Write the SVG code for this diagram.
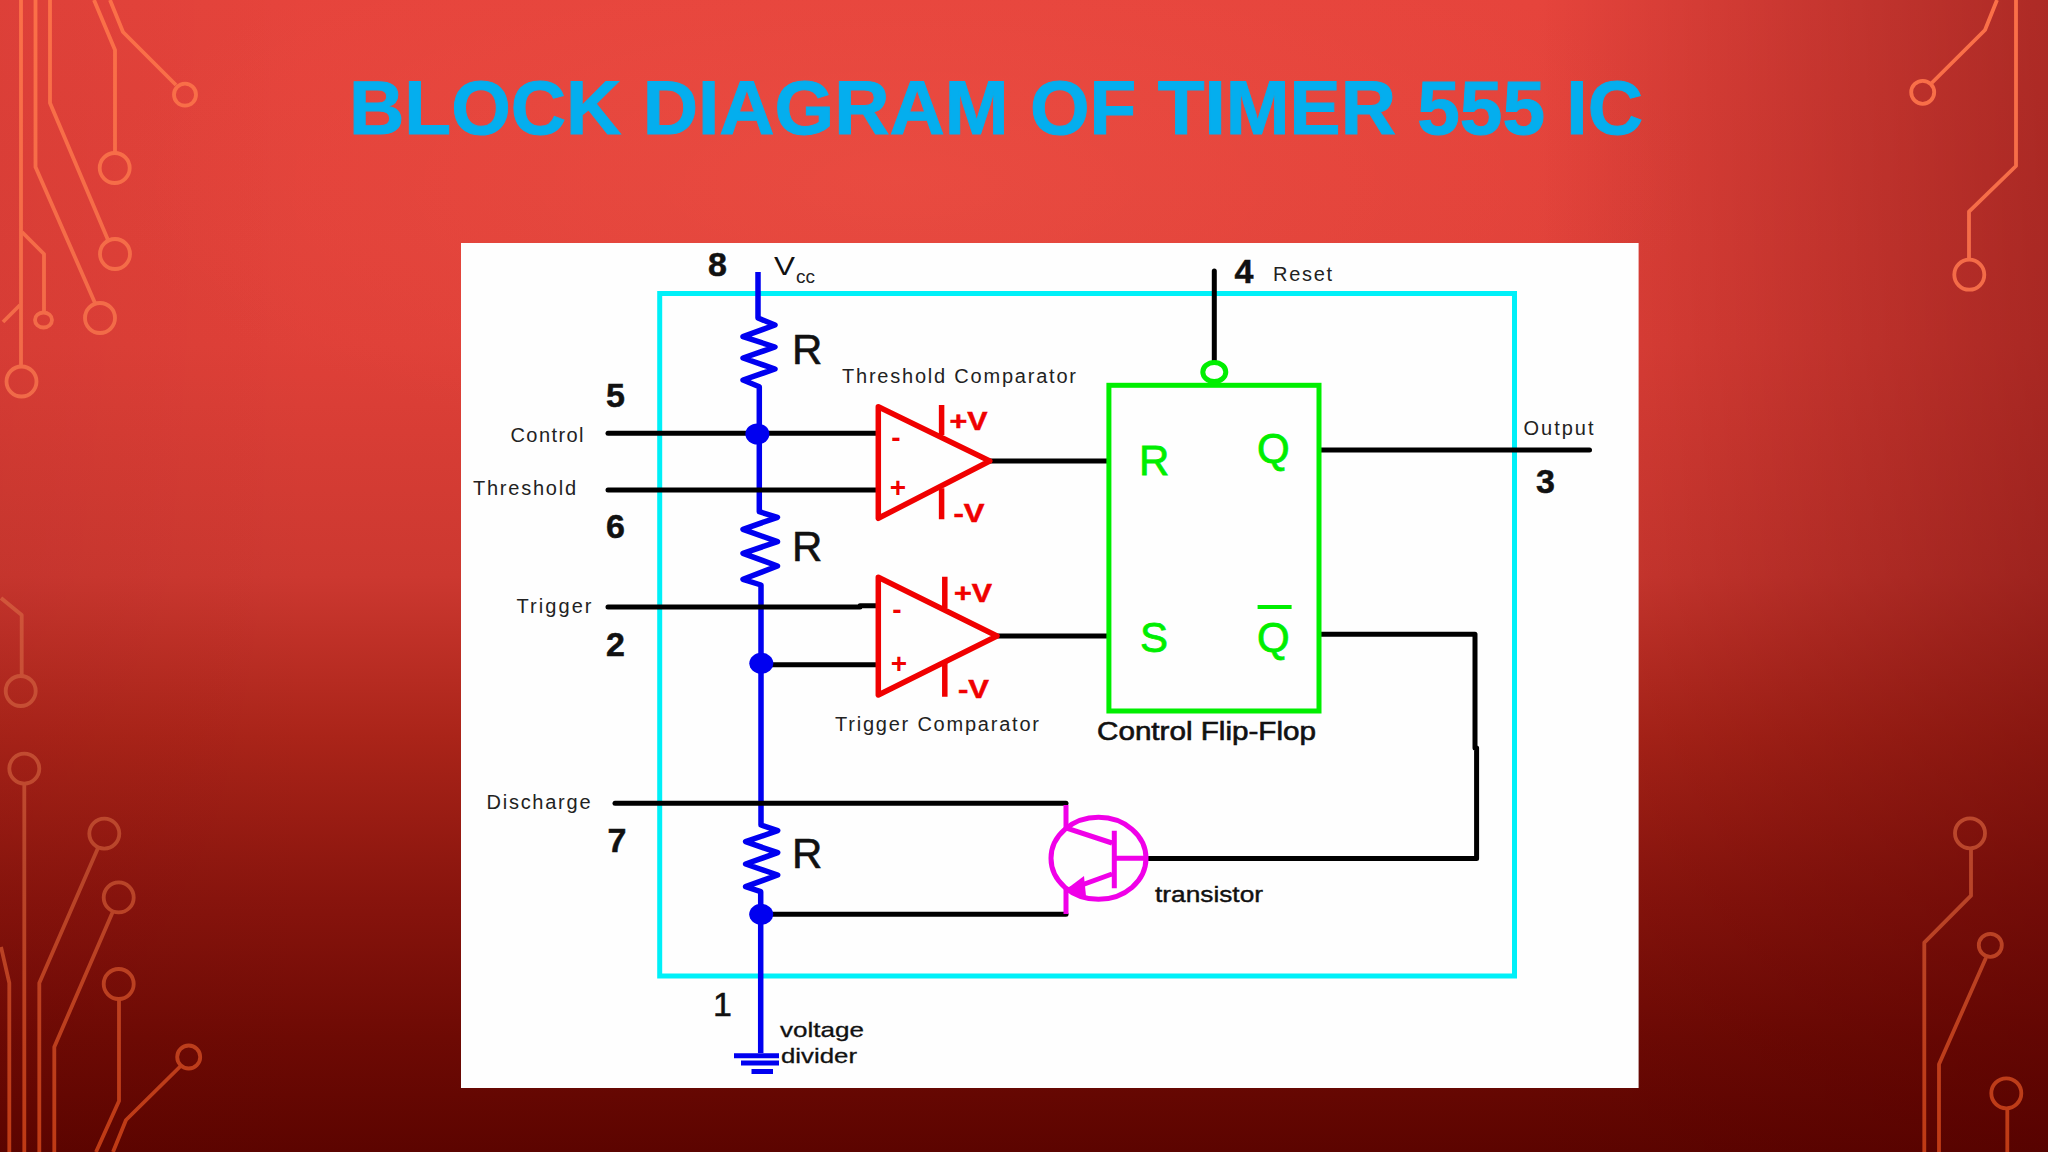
<svg xmlns="http://www.w3.org/2000/svg" width="2048" height="1152" viewBox="0 0 2048 1152">
<defs>
<linearGradient id="bg" x1="0" y1="0" x2="0" y2="1">
<stop offset="0" stop-color="#e6443c"/><stop offset=".3" stop-color="#df4038"/><stop offset=".5" stop-color="#cc3830"/><stop offset=".64" stop-color="#aa2419"/><stop offset=".78" stop-color="#88140d"/><stop offset=".9" stop-color="#6e0a04"/><stop offset="1" stop-color="#5c0400"/>
</linearGradient>
<linearGradient id="edge" x1="0" y1="0" x2="1" y2="0">
<stop offset="0" stop-color="#500000" stop-opacity=".06"/><stop offset=".15" stop-color="#500000" stop-opacity="0"/><stop offset=".75" stop-color="#500000" stop-opacity="0"/><stop offset="1" stop-color="#500000" stop-opacity=".38"/>
</linearGradient>
<radialGradient id="glow" cx=".5" cy=".5" r=".5">
<stop offset="0" stop-color="#ff6a58" stop-opacity=".22"/><stop offset="1" stop-color="#ff6a58" stop-opacity="0"/>
</radialGradient>
<linearGradient id="trace" gradientUnits="userSpaceOnUse" x1="0" y1="0" x2="0" y2="1152">
<stop offset="0" stop-color="#fb7048"/><stop offset=".35" stop-color="#f06a48"/><stop offset=".55" stop-color="#cc5238"/><stop offset=".75" stop-color="#b8452a"/><stop offset="1" stop-color="#bf3a14"/>
</linearGradient>
<style>
.tr{fill:none;stroke:url(#trace);stroke-width:3.8;stroke-linejoin:round}
.w{fill:none;stroke:#000;stroke-width:5;stroke-linejoin:round;stroke-linecap:round}
.b{fill:none;stroke:#0000f0;stroke-width:5.5;stroke-linejoin:round}
.bt{fill:none;stroke:#0000f0;stroke-width:5}
.dot{fill:#0000f0}
.red{fill:none;stroke:#f00000;stroke-width:5.5;stroke-linejoin:round}
.grn{fill:none;stroke:#00ee00;stroke-width:5}
.mag{fill:none;stroke:#f000e8;stroke-width:5}
text{font-family:"Liberation Sans",Arial,sans-serif}
.lb{font-size:20px;fill:#222}
.lk{font-size:21px;fill:#111;stroke:#111;stroke-width:.3}
.num{font-size:34px;font-weight:bold;fill:#111;stroke:#111;stroke-width:.5}
.big{font-size:42px;fill:#111;stroke:#111;stroke-width:.6}
.gl{font-size:42px;fill:#00ee00;stroke:#00ee00;stroke-width:.8}
.rl{font-size:25px;font-weight:bold;fill:#f00000;stroke:#f00000;stroke-width:.5}
.sg{font-size:28px;font-weight:bold;fill:#f00000;text-anchor:middle}
</style>
</defs>
<rect id="background" width="2048" height="1152" fill="url(#bg)"/>
<rect width="2048" height="1152" fill="url(#edge)"/>
<ellipse cx="900" cy="180" rx="800" ry="280" fill="url(#glow)"/>
<g id="traces">
<path class="tr" d="M21 0V366"/><circle class="tr" cx="21.5" cy="381.5" r="15"/>
<path class="tr" d="M35.5 0V167L95 303"/><circle class="tr" cx="100" cy="318" r="15"/>
<path class="tr" d="M50 0V103L108 240"/><circle class="tr" cx="115" cy="254" r="15"/>
<path class="tr" d="M94 0L115 50V153"/><circle class="tr" cx="114.7" cy="168" r="15"/>
<path class="tr" d="M110 0L123 32L176 85"/><circle class="tr" cx="185" cy="94.7" r="11"/>
<path class="tr" d="M22 232L44 254V312"/><ellipse class="tr" cx="43.5" cy="320" rx="8.5" ry="7.5"/>
<path class="tr" d="M3 322L20 305"/>
<path class="tr" d="M1 598L21.7 615V677"/><circle class="tr" cx="20.7" cy="691" r="15"/>
<circle class="tr" cx="24.3" cy="768.6" r="15"/><path class="tr" d="M24.3 783V1152"/>
<circle class="tr" cx="104.3" cy="833.6" r="15"/><path class="tr" d="M98 848L39.3 983V1152"/>
<circle class="tr" cx="118.7" cy="897.4" r="15"/><path class="tr" d="M112.7 912L54.3 1047V1152"/>
<circle class="tr" cx="118.7" cy="984" r="15"/><path class="tr" d="M119 998.5V1101L96 1152"/>
<circle class="tr" cx="188.7" cy="1057" r="11.5"/><path class="tr" d="M181.7 1065L126 1120L113 1152"/>
<path class="tr" d="M1 947L9.3 983V1152"/>
<path class="tr" d="M1997 0L1985 30L1931.7 83"/><circle class="tr" cx="1922.7" cy="92.3" r="11.5"/>
<path class="tr" d="M2016 0V166L1969 211.7V259"/><circle class="tr" cx="1969.3" cy="274.7" r="15"/>
<circle class="tr" cx="1970" cy="833.3" r="15"/><path class="tr" d="M1971 848V895.7L1924.3 942.7V1152"/>
<circle class="tr" cx="1990.3" cy="945.3" r="11.5"/><path class="tr" d="M1986 957.7L1939 1064.3V1152"/>
<circle class="tr" cx="2006.3" cy="1093.3" r="15"/><path class="tr" d="M2007.3 1108.3V1152"/>
</g>
<text id="title" x="349" y="134" font-size="76" font-weight="bold" fill="#04aeee" stroke="#04aeee" stroke-width="1" textLength="1294" lengthAdjust="spacingAndGlyphs">BLOCK DIAGRAM OF TIMER 555 IC</text>
<rect id="panel" x="461" y="243" width="1177.6" height="845" fill="#fefefe"/>
<rect id="ic-boundary" x="659.7" y="293.5" width="854.8" height="682.5" fill="none" stroke="#00f0f8" stroke-width="5"/>
<g id="connectors">
<path class="b" d="M758 272V318L775 325L743 336.7L775 347L743 358L775 369L743 380L759.3 386.7V511.7L777.5 517.3L743 529.3L777.5 541.7L743 553.3L777.5 566L743 579.3L761 585V825L777.7 830.7L745.6 841.7L777.7 852.7L745.6 864L777.7 875L745.6 886.7L760.7 891.7V1053"/>
<path class="w" d="M608 433.3H877"/>
<path class="w" d="M608 490H877"/>
<path class="w" d="M608 607H860V605.7H877"/>
<path class="w" d="M761 664.7H877"/>
<path class="w" d="M990 461H1107"/>
<path class="w" d="M997 636H1107"/>
<path class="w" d="M1214.3 271V360"/>
<path class="w" d="M1320.5 450H1589.5"/>
<path class="w" d="M1320.5 634.3H1475V748H1476.6V858.5H1149"/>
<path class="w" d="M615 803.3H1066"/>
<path class="w" d="M761 914.3H1066"/>
</g>
<g id="junctions">
<ellipse class="dot" cx="757.4" cy="434" rx="12" ry="10.5"/>
<ellipse class="dot" cx="761.3" cy="663.3" rx="12" ry="10.5"/>
<ellipse class="dot" cx="761.2" cy="914.3" rx="12" ry="10.5"/>
</g>
<g id="ground">
<path class="bt" d="M734 1055.7H779M741 1063H779M751.5 1071.5H773"/>
</g>
<g id="threshold-comparator">
<path class="red" d="M878.3 406.7L989.8 461L878.3 518.3Z"/>
<path class="red" d="M941.6 405V435M941.6 488.3V519.3"/>
<text class="sg" x="896" y="447">-</text>
<text class="sg" x="898" y="497">+</text>
<text class="rl" x="949.5" y="430" textLength="38" lengthAdjust="spacingAndGlyphs">+V</text>
<text class="rl" x="953.5" y="521.7" textLength="31" lengthAdjust="spacingAndGlyphs">-V</text>
<text class="lb" x="842" y="382.7" textLength="234" lengthAdjust="spacing">Threshold Comparator</text>
</g>
<g id="trigger-comparator">
<path class="red" d="M878.3 577.3L997 636L878.3 695Z"/>
<path class="red" d="M944.8 576.7V608M944.8 661.7V696.7"/>
<text class="sg" x="897" y="619">-</text>
<text class="sg" x="899" y="673">+</text>
<text class="rl" x="954" y="601.7" textLength="38" lengthAdjust="spacingAndGlyphs">+V</text>
<text class="rl" x="958" y="698" textLength="31" lengthAdjust="spacingAndGlyphs">-V</text>
<text class="lb" x="835" y="731" textLength="204" lengthAdjust="spacing">Trigger Comparator</text>
</g>
<g id="flip-flop">
<rect class="grn" x="1108.9" y="385.3" width="210.1" height="325.7"/>
<ellipse class="grn" cx="1214.3" cy="372" rx="11.5" ry="9.5"/>
<text class="gl" x="1139" y="474.8">R</text>
<text class="gl" x="1257" y="463">Q</text>
<text class="gl" x="1140" y="651.5">S</text>
<text class="gl" x="1257" y="651.5">Q</text>
<path class="grn" style="stroke-width:4" d="M1257.6 607H1291.6"/>
<text class="lk" x="1097" y="740" style="font-size:25px;stroke-width:.6" textLength="219" lengthAdjust="spacingAndGlyphs">Control Flip-Flop</text>
</g>
<g id="transistor">
<ellipse class="mag" cx="1098.5" cy="858.3" rx="47.5" ry="41"/>
<path class="mag" d="M1114.3 830.7V888.3M1116.6 858.3H1147.8M1066 805V828L1112 843M1112 874L1066 890.7V914"/>
<path d="M1064 891L1084 876L1086 896Z" fill="#f000e8"/>
<text class="lk" x="1155" y="902" style="font-size:22px;stroke-width:.4" textLength="108" lengthAdjust="spacingAndGlyphs">transistor</text>
</g>
<g id="resistor-labels">
<text class="big" x="792" y="364">R</text>
<text class="big" x="792" y="560.7">R</text>
<text class="big" x="792" y="867.7">R</text>
</g>
<g id="pin-labels">
<text class="num" x="708" y="276">8</text>
<text class="num" x="606" y="406.7">5</text>
<text class="num" x="606" y="538.3">6</text>
<text class="num" x="606" y="656">2</text>
<text class="num" x="607.5" y="851.7">7</text>
<text class="num" x="713" y="1016" style="font-weight:normal">1</text>
<text class="num" x="1234.5" y="283">4</text>
<text class="num" x="1536" y="493">3</text>
<text x="774" y="275" font-size="25" fill="#111" textLength="21" lengthAdjust="spacingAndGlyphs">V</text>
<text x="796" y="283.3" font-size="18" fill="#222" textLength="19" lengthAdjust="spacingAndGlyphs">cc</text>
<text class="lb" x="1273" y="281.3" textLength="59" lengthAdjust="spacing">Reset</text>
<text class="lb" x="1523.5" y="434.6" textLength="70" lengthAdjust="spacing">Output</text>
<text class="lb" x="510.5" y="442.3" textLength="73" lengthAdjust="spacing">Control</text>
<text class="lb" x="473" y="494.7" textLength="103" lengthAdjust="spacing">Threshold</text>
<text class="lb" x="516.5" y="612.7" textLength="75" lengthAdjust="spacing">Trigger</text>
<text class="lb" x="486.5" y="809.3" textLength="104" lengthAdjust="spacing">Discharge</text>
<text class="lk" x="780" y="1036.7" textLength="84" lengthAdjust="spacingAndGlyphs">voltage</text>
<text class="lk" x="781" y="1063.3" textLength="76" lengthAdjust="spacingAndGlyphs">divider</text>
</g>
</svg>
